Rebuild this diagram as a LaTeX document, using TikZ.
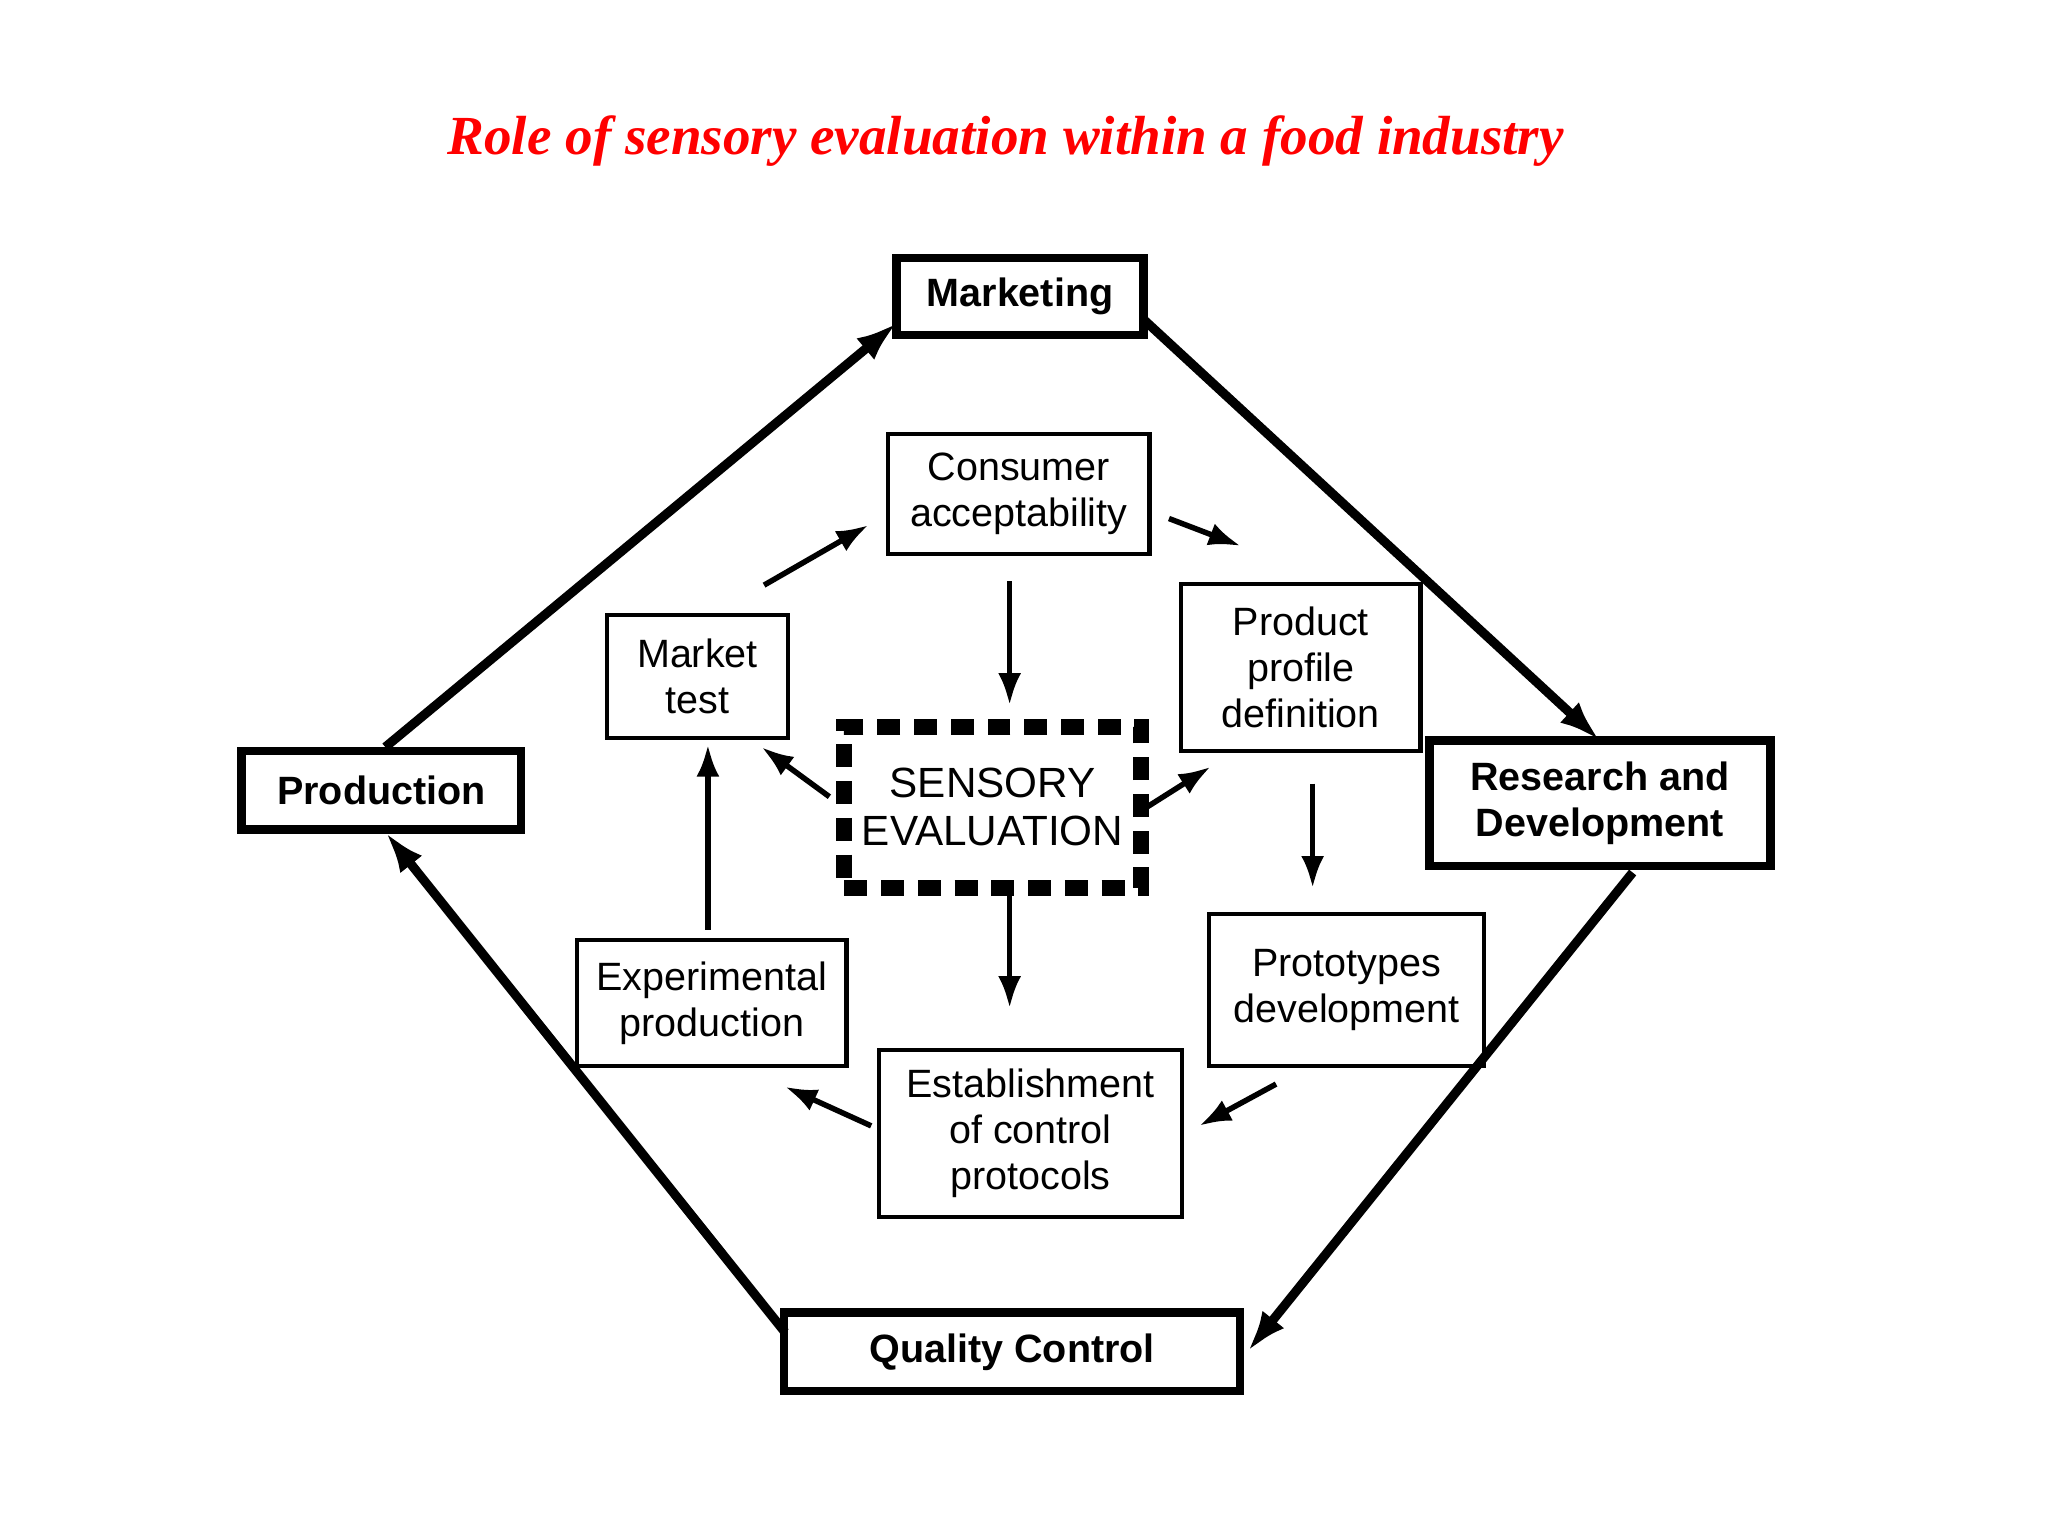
\documentclass[tikz,border=0pt]{standalone}
\usepackage{fontspec}
\setmainfont{Liberation Sans}
\newfontfamily\titlefont{Liberation Serif}
\usetikzlibrary{arrows.meta}
\begin{document}
\begin{tikzpicture}[x=0.01cm,y=-0.01cm,
  inner/.style={draw,line width=0.9pt,align=center,inner sep=0pt,font=\fontsize{8.6}{10}\selectfont},
  outer/.style={draw,line width=1.8pt,align=center,inner sep=0pt,font=\bfseries\fontsize{8.6}{10}\selectfont},
  big/.style={line width=2pt,-{Latex[length=9pt,width=6pt]}},
  small/.style={line width=1.2pt,-{Latex[length=7pt,width=5pt]}}]
\useasboundingbox (0,0) rectangle (1568,1176);
\node[font=\titlefont\bfseries\itshape\fontsize{12}{14}\selectfont,text=red] (title) at (770,108) {Role of sensory evaluation within a food industry};
\node[outer,minimum width=1.89cm,minimum height=0.59cm] (mk) at (781,227) {Marketing};
\node[outer,minimum width=2.14cm,minimum height=0.60cm] (pr) at (292,605) {Production};
\node[outer,minimum width=2.61cm,minimum height=0.96cm] (rd) at (1225,615) {Research and\\Development};
\node[outer,minimum width=3.49cm,minimum height=0.60cm] (qc) at (775,1035) {Quality Control};
\node[inner,minimum width=2.00cm,minimum height=0.92cm] (ca) at (780,378) {Consumer\\acceptability};
\node[inner,minimum width=1.38cm,minimum height=0.94cm] (mt) at (534,518) {Market\\test};
\node[inner,minimum width=1.83cm,minimum height=1.28cm] (pp) at (996,511) {Product\\profile\\definition};
\node[draw,line width=3.5pt,dash pattern=on 5pt off 3pt,align=center,inner sep=0pt,minimum width=2.27cm,minimum height=1.23cm,font=\fontsize{9.2}{10.5}\selectfont] (se) at (760,618) {SENSORY\\EVALUATION};
\node[inner,minimum width=2.10cm,minimum height=1.16cm] (pd) at (1031,758) {Prototypes\\development};
\node[inner,minimum width=2.06cm,minimum height=0.96cm] (ep) at (545,768) {Experimental\\production};
\node[inner,minimum width=2.32cm,minimum height=1.28cm] (es) at (789,868) {Establishment\\of control\\protocols};
\coordinate (a1) at (295,572); \coordinate (a2) at (687,247);
\coordinate (b1) at (876,245); \coordinate (b2) at (1225,567);
\coordinate (c1) at (1250,668); \coordinate (c2) at (955,1035);
\coordinate (d1) at (601,1020); \coordinate (d2) at (295,637);
\draw[big] (a1) -- (a2);
\draw[big] (b1) -- (b2);
\draw[big] (c1) -- (c2);
\draw[big] (d1) -- (d2);
\coordinate (e1) at (585,448); \coordinate (e2) at (665,402);
\coordinate (f1) at (895,397); \coordinate (f2) at (950,418);
\coordinate (g1) at (773,445); \coordinate (g2) at (773,540);
\coordinate (h1) at (635,610); \coordinate (h2) at (583,572);
\coordinate (i1) at (878,618); \coordinate (i2) at (927,587);
\coordinate (j1) at (1005,600); \coordinate (j2) at (1005,680);
\coordinate (k1) at (773,682); \coordinate (k2) at (773,772);
\coordinate (l1) at (977,830); \coordinate (l2) at (918,862);
\coordinate (m1) at (667,862); \coordinate (m2) at (601,832);
\coordinate (n1) at (542,712); \coordinate (n2) at (542,570);
\foreach \p in {e,f,g,h,i,j,k,l,m,n} \draw[small] (\p1) -- (\p2);
\end{tikzpicture}
\end{document}
